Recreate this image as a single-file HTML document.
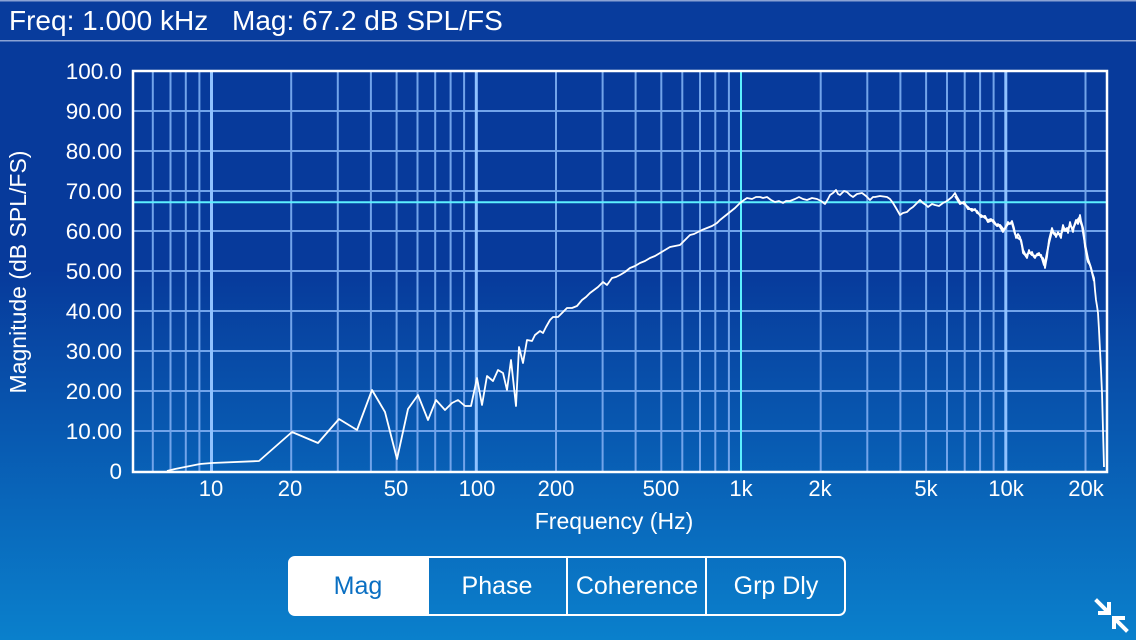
<!DOCTYPE html>
<html><head><meta charset="utf-8"><style>
html,body{margin:0;padding:0;width:1136px;height:640px;overflow:hidden;background:#073a9b}
svg{display:block}
text{font-family:"Liberation Sans",Arial,sans-serif;fill:#fff}
</style></head><body>
<svg width="1136" height="640" viewBox="0 0 1136 640" xmlns="http://www.w3.org/2000/svg">
<defs>
<linearGradient id="bg" x1="0" y1="0" x2="0" y2="1">
<stop offset="0" stop-color="#073a9b"/>
<stop offset="0.42" stop-color="#073a9b"/>
<stop offset="1" stop-color="#0a80cc"/>
</linearGradient>
</defs>
<rect x="0" y="0" width="1136" height="640" fill="url(#bg)"/>
<!-- header -->
<rect x="0" y="0" width="1136" height="41" fill="#083c9d"/>
<rect x="0" y="0" width="1136" height="1.5" fill="#8aa2d4"/>
<rect x="0" y="40" width="1136" height="1.5" fill="#8aa2d4"/>
<text x="9" y="30" font-size="28">Freq: 1.000 kHz</text>
<text x="232" y="30" font-size="28">Mag: 67.2 dB SPL/FS</text>

<!-- horizontal grid -->
<g stroke="#72a4ea" stroke-width="2">
<line x1="133" y1="111" x2="1107" y2="111"/>
<line x1="133" y1="151" x2="1107" y2="151"/>
<line x1="133" y1="191" x2="1107" y2="191"/>
<line x1="133" y1="231" x2="1107" y2="231"/>
<line x1="133" y1="271" x2="1107" y2="271"/>
<line x1="133" y1="311" x2="1107" y2="311"/>
<line x1="133" y1="351" x2="1107" y2="351"/>
<line x1="133" y1="391" x2="1107" y2="391"/>
<line x1="133" y1="431" x2="1107" y2="431"/>
</g>
<!-- vertical minor grid -->
<g stroke="#72a4ea" stroke-width="2">
<line x1="152.8" y1="71" x2="152.8" y2="471"/>
<line x1="170.5" y1="71" x2="170.5" y2="471"/>
<line x1="185.8" y1="71" x2="185.8" y2="471"/>
<line x1="199.4" y1="71" x2="199.4" y2="471"/>
<line x1="291.2" y1="71" x2="291.2" y2="471"/>
<line x1="337.8" y1="71" x2="337.8" y2="471"/>
<line x1="370.9" y1="71" x2="370.9" y2="471"/>
<line x1="396.6" y1="71" x2="396.6" y2="471"/>
<line x1="417.5" y1="71" x2="417.5" y2="471"/>
<line x1="435.2" y1="71" x2="435.2" y2="471"/>
<line x1="450.6" y1="71" x2="450.6" y2="471"/>
<line x1="464.1" y1="71" x2="464.1" y2="471"/>
<line x1="556" y1="71" x2="556" y2="471"/>
<line x1="602.6" y1="71" x2="602.6" y2="471"/>
<line x1="635.6" y1="71" x2="635.6" y2="471"/>
<line x1="661.3" y1="71" x2="661.3" y2="471"/>
<line x1="682.3" y1="71" x2="682.3" y2="471"/>
<line x1="700" y1="71" x2="700" y2="471"/>
<line x1="715.3" y1="71" x2="715.3" y2="471"/>
<line x1="728.9" y1="71" x2="728.9" y2="471"/>
<line x1="820.7" y1="71" x2="820.7" y2="471"/>
<line x1="867.3" y1="71" x2="867.3" y2="471"/>
<line x1="900.4" y1="71" x2="900.4" y2="471"/>
<line x1="926.1" y1="71" x2="926.1" y2="471"/>
<line x1="947" y1="71" x2="947" y2="471"/>
<line x1="964.7" y1="71" x2="964.7" y2="471"/>
<line x1="980.1" y1="71" x2="980.1" y2="471"/>
<line x1="993.6" y1="71" x2="993.6" y2="471"/>
<line x1="1085.5" y1="71" x2="1085.5" y2="471"/>
</g>
<!-- vertical major grid -->
<g stroke="#90c2ff" stroke-width="3">
<line x1="211.5" y1="71" x2="211.5" y2="471"/>
<line x1="476.3" y1="71" x2="476.3" y2="471"/>
<line x1="1005.8" y1="71" x2="1005.8" y2="471"/>
</g>
<!-- cursor -->
<g stroke="#5cf0ff" stroke-width="2">
<line x1="741" y1="71" x2="741" y2="471"/>
<line x1="133" y1="202.2" x2="1107" y2="202.2"/>
</g>

<!-- curve -->
<polyline fill="none" stroke="#fff" stroke-width="1.8" stroke-linejoin="round" points="
167,471 175,469 190,466 200,464 212,463 259,461 292,432 318,443 339,419 357,430 372,390 385,412 397,459 408,409 418,395 428,420 436,400 445,410 452,403 458,400 465,406 471,406 477,378 482,405 487,376 493,381 498,370 503,373 507,390 511,360 516,406 519,347 523,363 527,340 532,341 535,335 540,331 543,333 546,327 550,320 553,317 558,317 562,313 567,308 572,308 577,306 582,300 586,297 590,293 594,290 598,287 603,282 607,285 612,278 616,277 620,275 625,272 630,268 635,266 640,263 645,261 650,258 655,256 660,253 665,250 670,247 675,246 680,245 685,240 690,235 694,234 698,232 702,230 707,228 712,226 717,223 720,220 725,216 730,212 735,208 740,203 744,200 747,198 752,199 756,197 760,197 763,198 767,197 771,200 775,202 779,201 783,203 786,201 790,201 795,199 799,197 803,199 807,200 812,198 817,199 821,201 825,204 828,199 830,195 833,193 836,190 838,194 840,195 844,191 847,192 850,195 853,197 857,194 862,193 866,196 870,200 873,197 875,197 880,196 887,197 890,199 893,203 896,208 900,215 903,213 907,212 910,209 913,207 917,203 920,200 923,203 926,205 928,207 932,204 935,205 939,206 943,203 947,201 952,197 955,193 957,197 960,202 964,204 968,207 972,211 975,209 977,213 981,215 985,218 988,220 991,219 993,222 996,225 998,224 1000,227 1003,232 1005,228 1008,222 1010,224 1012,221 1014,228 1016,238 1018,234 1020,237 1022,246 1023,253 1025,255 1027,258 1029,250 1030,253 1032,252 1034,257 1035,258 1037,254 1039,253 1041,257 1043,258 1044,262 1045,268 1046,262 1047,257 1048,248 1049,240 1051,232 1052,228 1054,234 1055,233 1056,237 1058,232 1060,236 1061,238 1062,230 1063,225 1065,231 1067,228 1068,233 1070,222 1071,226 1073,232 1074,226 1076,220 1078,224 1080,215 1081,221 1083,228 1084,236 1085,247 1086,252 1087,258 1088,262 1090,265 1092,272 1094,278 1095,290 1096,300 1097,306 1098,313 1099,330 1100,350 1101,370 1102,393 1103,430 1104,467"/>
<!-- extra jitter thickness in HF region -->
<polyline fill="none" stroke="#fff" stroke-width="2" stroke-linejoin="round" points="
955,196 960,204 964,202 968,209 972,209 977,211 981,217 985,216 988,222 993,220 997,226 1000,225 1004,230 1008,224 1012,223 1015,234 1018,238 1021,240 1023,250 1026,256 1029,252 1032,255 1035,256 1038,255 1041,255 1044,265 1046,258 1049,243 1052,231 1055,235 1058,234 1061,234 1064,228 1067,231 1070,225 1073,229 1076,222 1079,218 1082,226 1085,244 1088,259 1091,268 1094,281"/>

<!-- frame -->
<rect x="133" y="71" width="974" height="401" fill="none" stroke="#fff" stroke-width="2.5"/>

<!-- y tick labels -->
<g font-size="22.5" text-anchor="end">
<text x="122" y="79">100.0</text>
<text x="122" y="119">90.00</text>
<text x="122" y="159">80.00</text>
<text x="122" y="199">70.00</text>
<text x="122" y="239">60.00</text>
<text x="122" y="279">50.00</text>
<text x="122" y="319">40.00</text>
<text x="122" y="359">30.00</text>
<text x="122" y="399">20.00</text>
<text x="122" y="439">10.00</text>
<text x="122" y="479">0</text>
</g>
<!-- x tick labels -->
<g font-size="22" text-anchor="middle">
<text x="211" y="496">10</text>
<text x="290" y="496">20</text>
<text x="396" y="496">50</text>
<text x="477" y="496">100</text>
<text x="556" y="496">200</text>
<text x="661" y="496">500</text>
<text x="741" y="496">1k</text>
<text x="820" y="496">2k</text>
<text x="926" y="496">5k</text>
<text x="1006" y="496">10k</text>
<text x="1086" y="496">20k</text>
</g>
<text x="614" y="529" font-size="23" text-anchor="middle">Frequency (Hz)</text>
<text transform="translate(26,272) rotate(-90)" font-size="23" text-anchor="middle">Magnitude (dB SPL/FS)</text>

<!-- segmented control -->
<path d="M428,557 L295,557 Q289,557 289,563 L289,609 Q289,615 295,615 L428,615 Z" fill="#fff"/>
<rect x="289" y="557" width="556" height="58" rx="6" ry="6" fill="none" stroke="#fff" stroke-width="2"/>
<line x1="428" y1="557" x2="428" y2="615" stroke="#fff" stroke-width="2"/>
<line x1="567" y1="557" x2="567" y2="615" stroke="#fff" stroke-width="2"/>
<line x1="706" y1="557" x2="706" y2="615" stroke="#fff" stroke-width="2"/>
<g font-size="25" text-anchor="middle">
<text x="358" y="594" style="fill:#0a6fc2">Mag</text>
<text x="497" y="594">Phase</text>
<text x="637" y="594">Coherence</text>
<text x="776" y="594">Grp Dly</text>
</g>

<!-- minimize icon -->
<g stroke="#fff" stroke-width="4" fill="none" stroke-linecap="square">
<line x1="1097" y1="601" x2="1108" y2="612"/>
<polyline points="1100,613 1109,613 1109,604"/>
<line x1="1126" y1="630" x2="1115" y2="619"/>
<polyline points="1123,618 1114,618 1114,627"/>
</g>
</svg>
</body></html>
